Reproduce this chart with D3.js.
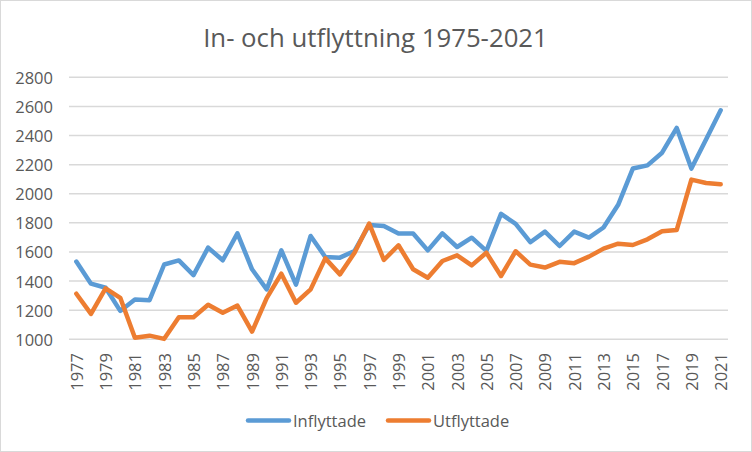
<!DOCTYPE html>
<html>
<head>
<meta charset="utf-8">
<script src="https://cdn.jsdelivr.net/npm/d3@7"></script>
<style>
  html, body { margin: 0; padding: 0; background: #fff; }
  svg { display: block; }
  text { font-family: "Open Sans", "Liberation Sans", sans-serif; fill: #595959; }
</style>
</head>
<body>
<svg id="chart" width="752" height="452"></svg>
<script>
const title = "In- och utflyttning 1975-2021";
const years = d3.range(1977, 2022);
const seriesNames = ["Inflyttade", "Utflyttade"];
const inflyttade = [1534,1382,1354,1195,1273,1269,1514,1542,1441,1630,1543,1728,1481,1343,1611,1375,1710,1566,1561,1607,1786,1779,1727,1727,1611,1728,1634,1698,1607,1862,1793,1667,1740,1641,1740,1699,1768,1924,2173,2195,2282,2452,2173,2372,2573];
const utflyttade = [1313,1175,1350,1285,1011,1025,1003,1152,1152,1237,1182,1232,1053,1283,1451,1251,1343,1556,1446,1595,1795,1545,1646,1481,1423,1538,1577,1508,1595,1435,1605,1513,1493,1532,1523,1568,1623,1657,1648,1687,1742,1751,2097,2074,2065];
const yTicks = [1000,1200,1400,1600,1800,2000,2200,2400,2600,2800];
const xTickYears = years.filter((y, i) => i % 2 === 0);
const colors = ["#5B9BD5", "#ED7D31"];

const svg = d3.select("#chart");
const W = 752, H = 452;

// border
svg.append("rect").attr("x", 0.5).attr("y", 0.5).attr("width", W - 1).attr("height", H - 1)
  .attr("fill", "#fff").attr("stroke", "#d9d9d9").attr("stroke-width", 1);

const x = d3.scaleBand().domain(years).range([69, 728]).padding(0);
const y = d3.scaleLinear().domain([1000, 2800]).range([339.3, 77.3]);
const cx = d => x(d) + x.bandwidth() / 2;

// gridlines
svg.append("g").selectAll("line").data(yTicks).join("line")
  .attr("x1", 69).attr("x2", 728)
  .attr("y1", d => y(d)).attr("y2", d => y(d))
  .attr("stroke", "#d9d9d9").attr("stroke-width", 1.5);

// y tick labels
svg.append("g").selectAll("text").data(yTicks).join("text")
  .attr("x", 53).attr("y", d => y(d))
  .attr("text-anchor", "end").attr("dominant-baseline", "central")
  .attr("font-size", 16.5).text(d => d);

// x tick labels
svg.append("g").selectAll("text").data(xTickYears).join("text")
  .attr("transform", d => `translate(${cx(d)},353) rotate(-90)`)
  .attr("text-anchor", "end").attr("dominant-baseline", "central")
  .attr("font-size", 16.5).text(d => d);

// lines
const line = d3.line().x((d, i) => cx(years[i])).y(d => y(d));
[inflyttade, utflyttade].forEach((vals, k) => {
  svg.append("path").datum(vals)
    .attr("d", line).attr("fill", "none")
    .attr("stroke", colors[k]).attr("stroke-width", 4.5)
    .attr("stroke-linejoin", "round").attr("stroke-linecap", "round");
});

// title
const t = svg.append("text").attr("x", 375.5).attr("y", 47)
  .attr("text-anchor", "middle").attr("font-size", 24).text(title);
const tw = t.node().getComputedTextLength();
t.attr("font-size", 24 * 345 / tw);

// legend
const legendItems = [
  { name: seriesNames[0], color: colors[0], x1: 248, x2: 289, tx: 293 },
  { name: seriesNames[1], color: colors[1], x1: 388, x2: 429, tx: 433 }
];
const lg = svg.append("g");
legendItems.forEach(it => {
  lg.append("line").attr("x1", it.x1).attr("x2", it.x2).attr("y1", 420.5).attr("y2", 420.5)
    .attr("stroke", it.color).attr("stroke-width", 4.5).attr("stroke-linecap", "round");
  lg.append("text").attr("x", it.tx).attr("y", 420.5).attr("dominant-baseline", "central")
    .attr("font-size", 16.5).text(it.name);
});
</script>
</body>
</html>
